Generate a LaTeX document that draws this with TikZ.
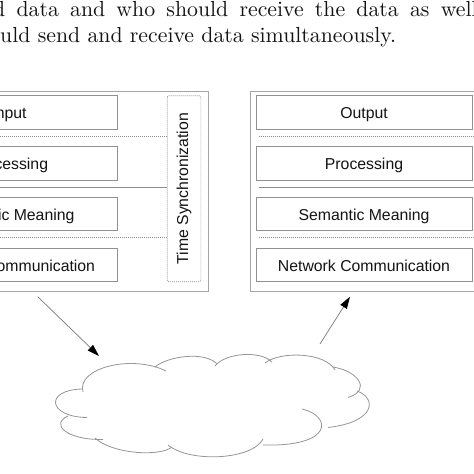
\documentclass[tikz,border=0pt]{standalone}
\usepackage{fontspec}
\newfontfamily\boxfont{Liberation Sans}
\newfontfamily\lmten{lmroman10-regular.otf}
\usetikzlibrary{arrows.meta}
\definecolor{outergray}{RGB}{165,165,165}
\definecolor{innergray}{RGB}{145,145,145}
\definecolor{sepgray}{RGB}{140,140,140}
\definecolor{linegray}{RGB}{120,120,120}
\definecolor{cloudgray}{RGB}{150,150,150}
\definecolor{textcol}{RGB}{20,20,20}
\begin{document}
\begin{tikzpicture}[x=1pt,y=-1pt,
  panel/.style={draw=outergray, line width=0.9pt, minimum width=313pt, minimum height=200pt, inner sep=0pt},
  layerbox/.style={draw=innergray, line width=0.9pt, minimum width=216pt, minimum height=33.3pt, inner sep=0pt,
    text height=12pt, text depth=0pt,
    font=\boxfont\fontsize{15.8}{18}\selectfont, text=textcol},
  syncbox/.style={draw=innergray, line width=0.7pt, dash pattern=on 1pt off 1pt, rounded corners=2pt,
    minimum width=186pt, minimum height=33.7pt, inner sep=0pt, rotate=90,
    font=\boxfont\fontsize{15.8}{18}\selectfont, text=textcol},
  sepdot/.style={draw=sepgray, line width=0.6pt, dash pattern=on 1pt off 1pt},
  sepsolid/.style={draw=sepgray, line width=0.7pt},
  flow/.style={draw=linegray, line width=0.7pt, -{Triangle[length=12pt,width=7.5pt,color=black,fill=black]}},
  cloudline/.style={draw=cloudgray, line width=0.8pt},
  para/.style={anchor=base west, inner sep=0pt, font=\lmten\fontsize{21.8}{26}\selectfont, text=textcol}]
\useasboundingbox (0,0) rectangle (474,474);
\fill[white] (0,0) rectangle (474,474);

% paragraph text
\node[para] (para1) at (-7,16.8) {\makebox[484.5pt][s]{d data and who should receive the data as well}};
\node[para] (para2) at (0,42.5) {uld send and receive data simultaneously.};

% left panel
\node[panel] (lpanel) at (51.5,191) {};
\node[layerbox] (lin) at (9,112.3) {Input};
\node[layerbox] (lproc) at (9,163.3) {Processing};
\node[layerbox] (lsem) at (9,214) {Semantic Meaning};
\node[layerbox] (lnet) at (9,265) {Network Communication};
\node[syncbox] (tsync) at (184,188.7) {Time Synchronization};
\draw[sepdot] (-96,136.7) -- (tsync.north |- 0,136.7);
\draw[sepsolid] (-96,187.3) -- (tsync.north |- 0,187.3);
\draw[sepdot] (-96,237.7) -- (tsync.north |- 0,237.7);

% right panel
\node[panel] (rpanel) at (406.8,191) {};
\node[layerbox] (rout) at (364,112.3) {Output};
\node[layerbox] (rproc) at (364,163.3) {Processing};
\node[layerbox] (rsem) at (364,214) {Semantic Meaning};
\node[layerbox] (rnet) at (364,265) {Network Communication};
\draw[sepdot] (258.7,136.7) -- (480,136.7);
\draw[sepsolid] (258.7,187.3) -- (480,187.3);
\draw[sepdot] (258.7,237.7) -- (480,237.7);

% cloud
\draw[cloudline] (83,392) .. controls (76,368) and (132,354) .. (166,371);
\draw[cloudline] (155,367) .. controls (168,356) and (205,351) .. (217,364);
\draw[cloudline] (215,366) .. controls (225,353) and (260,350) .. (272,362);
\draw[cloudline] (265,363) .. controls (280,351) and (325,352) .. (335,370);
\draw[cloudline] (333,367) .. controls (358,371) and (372,390) .. (348,397.5);
\draw[cloudline] (357,391) .. controls (377,398) and (376,422) .. (328,427.5);
\draw[cloudline] (302,409) .. controls (332,416) and (334,447) .. (263,445);
\draw[cloudline] (263,439) .. controls (252,460) and (190,463) .. (168,445);
\draw[cloudline] (172,447) .. controls (160,457) and (112,454) .. (95,438);
\draw[cloudline] (103,439.5) .. controls (66,440) and (50,424) .. (68,416);
\draw[cloudline] (87,417.5) .. controls (48,417) and (44,390) .. (82,389);
\coordinate (cloudin) at (99,356);
\coordinate (cloudout) at (320,344);

% arrows
\coordinate (lfoot) at (37.7,296.7);
\coordinate (rfoot) at (350,296.7);
\draw[flow] (lfoot) -- (cloudin);
\draw[flow] (cloudout) -- (rfoot);
\end{tikzpicture}
\end{document}
